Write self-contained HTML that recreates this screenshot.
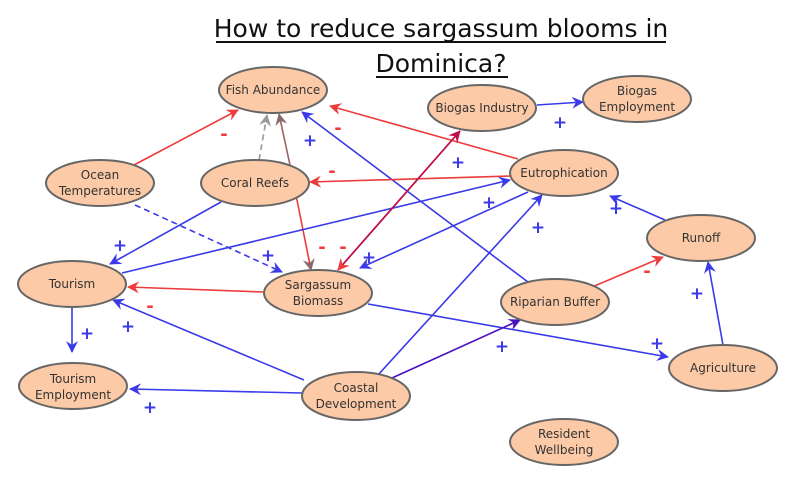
<!DOCTYPE html>
<html><head><meta charset="utf-8"><style>
body{margin:0;background:#fff;width:800px;height:476px;overflow:hidden}
text{font-family:"DejaVu Sans","Liberation Sans",sans-serif;fill:#333}
.n{font-size:12px}
.p{font-size:17px;font-weight:bold;fill:#3a3ae8}
.m{font-size:18px;font-weight:bold;fill:#ee3b3b}
</style></head><body>
<svg width="800" height="476" viewBox="0 0 800 476" xmlns="http://www.w3.org/2000/svg">
<defs>
<marker id="ab" markerWidth="12" markerHeight="12" refX="11" refY="6" orient="auto" markerUnits="userSpaceOnUse"><path d="M0,0 L12,6 L0,12 L4,6z" fill="#3a3ae8"/></marker>
<marker id="ar" markerWidth="12" markerHeight="12" refX="11" refY="6" orient="auto" markerUnits="userSpaceOnUse"><path d="M0,0 L12,6 L0,12 L4,6z" fill="#ee3b3b"/></marker>
<marker id="ag" markerWidth="12" markerHeight="12" refX="11" refY="6" orient="auto" markerUnits="userSpaceOnUse"><path d="M0,0 L12,6 L0,12 L4,6z" fill="#999"/></marker>
<marker id="abr" markerWidth="12" markerHeight="12" refX="11" refY="6" orient="auto" markerUnits="userSpaceOnUse"><path d="M0,0 L12,6 L0,12 L4,6z" fill="#8a6a6a"/></marker>
<marker id="ad" markerWidth="12" markerHeight="12" refX="11" refY="6" orient="auto" markerUnits="userSpaceOnUse"><path d="M0,0 L12,6 L0,12 L4,6z" fill="#c0104a"/></marker>
<marker id="ap" markerWidth="12" markerHeight="12" refX="11" refY="6" orient="auto" markerUnits="userSpaceOnUse"><path d="M0,0 L12,6 L0,12 L4,6z" fill="#4a10c0"/></marker>
</defs>
<text x="441" y="37" text-anchor="middle" style="font-size:25px;fill:#111">How to reduce sargassum blooms in</text>
<line x1="216" y1="42" x2="666" y2="42" stroke="#111" stroke-width="2"/>
<text x="441" y="72" text-anchor="middle" style="font-size:25px;fill:#111">Dominica?</text>
<line x1="376" y1="77" x2="508" y2="77" stroke="#111" stroke-width="2"/>
<g stroke-width="1.6" fill="none">
<line x1="134" y1="165" x2="238" y2="110" stroke="#ee3b3b" marker-end="url(#ar)"/>
<line x1="259" y1="160" x2="267" y2="115" stroke="#999" stroke-dasharray="6,4" marker-end="url(#ag)"/>
<line x1="290" y1="165" x2="279" y2="114" stroke="#a06060" marker-end="url(#abr)"/>
<line x1="290" y1="165" x2="311" y2="270" stroke="#ee3b3b" marker-end="url(#abr)"/>
<line x1="518" y1="159" x2="330" y2="106" stroke="#ee3b3b" marker-end="url(#ar)"/>
<line x1="528" y1="282" x2="302" y2="112" stroke="#3a3ae8" marker-end="url(#ab)"/>
<line x1="512" y1="176" x2="310" y2="182" stroke="#ee3b3b" marker-end="url(#ar)"/>
<line x1="221" y1="202" x2="110" y2="264" stroke="#3a3ae8" marker-end="url(#ab)"/>
<line x1="122" y1="273" x2="510" y2="180" stroke="#3a3ae8" marker-end="url(#ab)"/>
<line x1="135" y1="205" x2="282" y2="272" stroke="#3a3ae8" stroke-dasharray="6,4" marker-end="url(#ab)"/>
<line x1="338" y1="270" x2="460" y2="131" stroke="#c0104a" marker-end="url(#ad)"/>
<line x1="460" y1="131" x2="338" y2="270" stroke="#c0104a" marker-end="url(#ar)"/>
<line x1="528" y1="192" x2="360" y2="268" stroke="#3a3ae8" marker-end="url(#ab)"/>
<line x1="263" y1="292" x2="128" y2="287" stroke="#ee3b3b" marker-end="url(#ar)"/>
<line x1="304" y1="380" x2="113" y2="300" stroke="#3a3ae8" marker-end="url(#ab)"/>
<line x1="72" y1="307" x2="72" y2="352" stroke="#3a3ae8" marker-end="url(#ab)"/>
<line x1="302" y1="393" x2="130" y2="389" stroke="#3a3ae8" marker-end="url(#ab)"/>
<line x1="368" y1="304" x2="668" y2="357" stroke="#3a3ae8" marker-end="url(#ab)"/>
<line x1="378" y1="375" x2="542" y2="195" stroke="#3a3ae8" marker-end="url(#ab)"/>
<line x1="392" y1="378" x2="520" y2="320" stroke="#4a10c0" marker-end="url(#ap)"/>
<line x1="592" y1="287" x2="663" y2="257" stroke="#ee3b3b" marker-end="url(#ar)"/>
<line x1="665" y1="220" x2="610" y2="196" stroke="#3a3ae8" marker-end="url(#ab)"/>
<line x1="723" y1="345" x2="708" y2="262" stroke="#3a3ae8" marker-end="url(#ab)"/>
<line x1="537" y1="105" x2="583" y2="102" stroke="#3a3ae8" marker-end="url(#ab)"/>
</g>
<g fill="#fccaa6" stroke="#666" stroke-width="2">
<ellipse cx="273" cy="90" rx="54" ry="23"/>
<ellipse cx="482" cy="108" rx="54" ry="23"/>
<ellipse cx="637" cy="99" rx="54" ry="23"/>
<ellipse cx="100" cy="183" rx="54" ry="23"/>
<ellipse cx="255" cy="183" rx="54" ry="23"/>
<ellipse cx="564" cy="173" rx="54" ry="23"/>
<ellipse cx="701" cy="238" rx="54" ry="23"/>
<ellipse cx="72" cy="284" rx="54" ry="23"/>
<ellipse cx="318" cy="293" rx="54" ry="23"/>
<ellipse cx="555" cy="302" rx="54" ry="23"/>
<ellipse cx="723" cy="368" rx="54" ry="23"/>
<ellipse cx="73" cy="386" rx="54" ry="23"/>
<ellipse cx="356" cy="396" rx="54" ry="24"/>
<ellipse cx="564" cy="442" rx="54" ry="23"/>
</g>
<g class="n" text-anchor="middle">
<text class="n" x="273" y="94">Fish Abundance</text>
<text class="n" x="482" y="112">Biogas Industry</text>
<text class="n" x="637" y="95">Biogas</text><text class="n" x="637" y="111">Employment</text>
<text class="n" x="100" y="179">Ocean</text><text class="n" x="100" y="195">Temperatures</text>
<text class="n" x="255" y="187">Coral Reefs</text>
<text class="n" x="564" y="177">Eutrophication</text>
<text class="n" x="701" y="242">Runoff</text>
<text class="n" x="72" y="288">Tourism</text>
<text class="n" x="318" y="289">Sargassum</text><text class="n" x="318" y="305">Biomass</text>
<text class="n" x="555" y="306">Riparian Buffer</text>
<text class="n" x="723" y="372">Agriculture</text>
<text class="n" x="73" y="383">Tourism</text><text class="n" x="73" y="399">Employment</text>
<text class="n" x="356" y="392">Coastal</text><text class="n" x="356" y="408">Development</text>
<text class="n" x="564" y="438">Resident</text><text class="n" x="564" y="454">Wellbeing</text>
</g>
<g text-anchor="middle">
<text class="m" x="224" y="140">-</text>
<text class="m" x="338" y="134">-</text>
<text class="m" x="332" y="177">-</text>
<text class="m" x="322" y="253">-</text><text class="m" x="343" y="253">-</text>
<text class="m" x="150" y="312">-</text>
<text class="m" x="647" y="277">-</text>
<text class="p" x="310" y="146">+</text>
<text class="p" x="120" y="251">+</text>
<text class="p" x="268" y="261">+</text>
<text class="p" x="458" y="168">+</text>
<text class="p" x="369" y="263">+</text>
<text class="p" x="489" y="208">+</text>
<text class="p" x="538" y="233">+</text>
<text class="p" x="560" y="128">+</text>
<text class="p" x="616" y="214">+</text>
<text class="p" x="697" y="299">+</text>
<text class="p" x="128" y="332">+</text>
<text class="p" x="87" y="339">+</text>
<text class="p" x="150" y="413">+</text>
<text class="p" x="502" y="352">+</text>
<text class="p" x="657" y="349">+</text>
</g>
</svg>
</body></html>
